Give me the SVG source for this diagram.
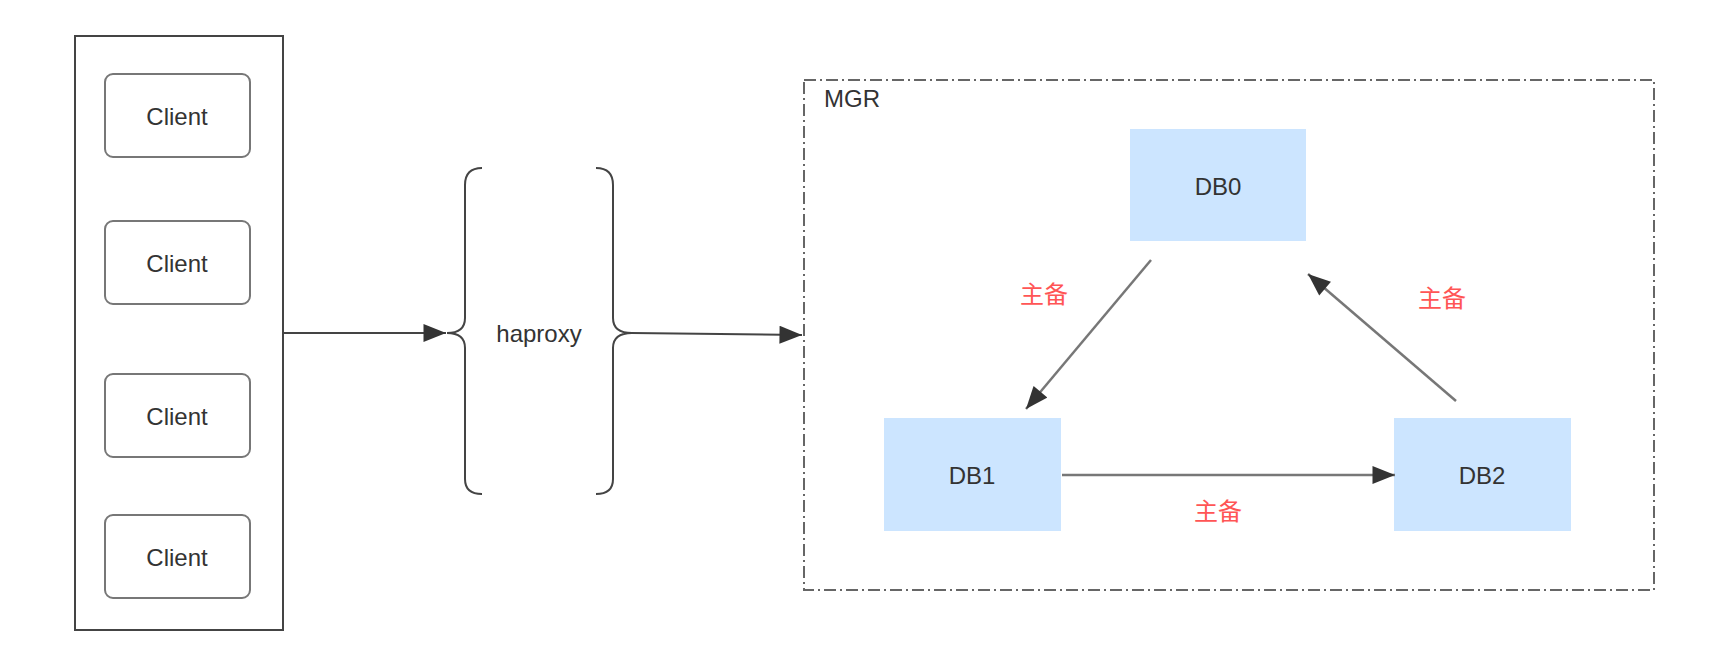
<svg xmlns="http://www.w3.org/2000/svg" width="1720" height="668" viewBox="0 0 1720 668">
<style>
text{font-family:"Liberation Sans","Noto Sans CJK SC",sans-serif;fill:#333;font-size:24px;text-anchor:middle;dominant-baseline:central}
.client{fill:#fff;stroke:#777;stroke-width:2}
.db{fill:#cce5ff}
.red{fill:#ff5555;font-size:24px}
.con{stroke:#444;stroke-width:2;fill:none}
.g{stroke:#777;stroke-width:2.5}
</style>
<defs>
<marker id="b" viewBox="0 0 10 8" markerWidth="24" markerHeight="18" refX="10" refY="4" orient="auto" markerUnits="userSpaceOnUse"><path d="M0,0 L10,4 L0,8 Z" fill="#333"/></marker>
</defs>
<g id="clients">
<rect x="75" y="36" width="208" height="594" fill="#fff" stroke="#444" stroke-width="2"/>
</g>
<g id="client1"><rect class="client" x="105" y="74" width="145" height="83" rx="8"/><text x="177" y="116">Client</text></g>
<g id="client2"><rect class="client" x="105" y="221" width="145" height="83" rx="8"/><text x="177" y="263">Client</text></g>
<g id="client3"><rect class="client" x="105" y="374" width="145" height="83" rx="8"/><text x="177" y="416">Client</text></g>
<g id="client4"><rect class="client" x="105" y="515" width="145" height="83" rx="8"/><text x="177" y="557">Client</text></g>
<g id="haproxy">
<path class="con" stroke-width="3" d="M482,168 Q465,168 465,185 L465,318 Q465,333 447,333 Q465,333 465,348 L465,479 Q465,494 482,494"/>
<path class="con" stroke-width="3" d="M596,168 Q613,168 613,185 L613,318 Q613,333 632,333 Q613,333 613,348 L613,479 Q613,494 596,494"/>
<text x="539" y="333" font-size="26">haproxy</text>
</g>
<g id="mgr">
<rect x="804" y="80" width="850" height="510" fill="none" stroke="#666" stroke-width="2" stroke-dasharray="12,4,2,4"/>
<text x="824" y="98" style="text-anchor:start">MGR</text>
</g>
<g id="db0"><rect class="db" x="1130" y="129" width="176" height="112"/><text x="1218" y="186">DB0</text></g>
<g id="db1"><rect class="db" x="884" y="418" width="177" height="113"/><text x="972" y="475">DB1</text></g>
<g id="db2"><rect class="db" x="1394" y="418" width="177" height="113"/><text x="1482" y="475">DB2</text></g>
<g id="connectors">
<line class="con" x1="283" y1="333" x2="446" y2="333" marker-end="url(#b)"/>
<line class="con" x1="632" y1="333" x2="802" y2="335" marker-end="url(#b)"/>
<line class="g" x1="1151" y1="260" x2="1026" y2="409" marker-end="url(#b)"/>
<line class="g" x1="1456" y1="401" x2="1308" y2="274" marker-end="url(#b)"/>
<line class="g" x1="1062" y1="475" x2="1395" y2="475" marker-end="url(#b)"/>
</g>
<g id="labels">
<text class="red" x="1044" y="294">主备</text>
<text class="red" x="1442" y="298">主备</text>
<text class="red" x="1218" y="511">主备</text>
</g>
</svg>
